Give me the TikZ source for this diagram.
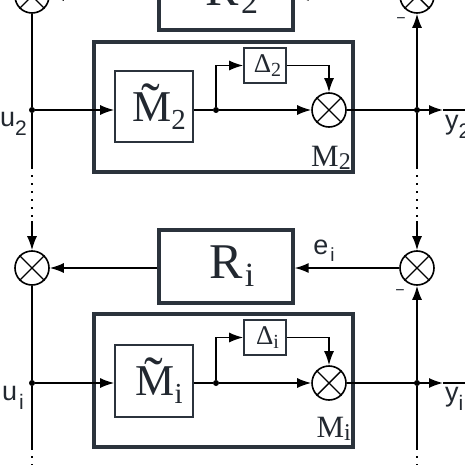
\documentclass[tikz,border=0pt]{standalone}
\usepackage{fontspec}
\setmainfont{Liberation Serif}
\setsansfont{Liberation Sans}
\usetikzlibrary{arrows.meta,calc}
\definecolor{boxcol}{HTML}{2B333C}
\definecolor{txtcol}{HTML}{222830}
\newcommand{\RLab}[1]{\hspace*{12pt}{\fontsize{50}{50}\selectfont R}\hspace{2pt}\raisebox{-8pt}{\fontsize{34}{34}\selectfont #1}}
\newcommand{\MtLab}[1]{\hspace*{10pt}{\fontsize{44}{44}\selectfont\makebox[0pt][l]{\hspace{9pt}{\fontsize{56}{56}\selectfont ˜}}M}\raisebox{-8pt}{\fontsize{29}{29}\selectfont #1}}
\newcommand{\MLab}[1]{{\fontsize{31}{31}\selectfont M}\raisebox{-3pt}{\fontsize{24}{24}\selectfont #1}}
\newcommand{\DLab}[1]{\hspace*{5pt}{\fontsize{27}{27}\selectfont Δ}\raisebox{-4pt}{\fontsize{20}{20}\selectfont #1}}
\newcommand{\SLab}[2]{\sffamily{\fontsize{27}{27}\selectfont #1}\raisebox{-9pt}{\fontsize{21}{21}\selectfont #2}}
\begin{document}
\begin{tikzpicture}[x=1pt,y=-1pt,
  bigbox/.style={draw=boxcol,line width=3.2pt,rectangle,inner sep=0pt,text=txtcol},
  blk/.style={draw=boxcol,line width=1.6pt,rectangle,inner sep=0pt,text=txtcol},
  sumnode/.style={circle,draw,line width=1.6pt,minimum size=34pt,inner sep=0pt},
  junc/.style={circle,fill,inner sep=0pt,minimum size=6pt},
  wire/.style={line width=1.6pt},
  conn/.style={line width=1.6pt,-{Latex[length=14pt,width=10pt]}},
  dotted wire/.style={line width=2pt,dash pattern=on 2pt off 6pt},
  lab/.style={inner sep=0pt,text=txtcol}]
\useasboundingbox (0,0) rectangle (465,465);

% ---------- top (partial) row: R2 ----------
\node[sumnode] (S2L) at (32,-4) {};
\node[sumnode] (S2R) at (417,-4) {};
\node[bigbox,minimum width=134pt,minimum height=73pt] (R2) at (226,-6.5) {\RLab{2}};

% ---------- M2 block ----------
\node[bigbox,minimum width=259pt,minimum height=130pt] (M2) at (223.5,107) {};
\node[blk,minimum width=78pt,minimum height=71pt] (Mt2) at (154,106.5) {\MtLab{2}};
\node[blk,minimum width=42pt,minimum height=35pt] (D2) at (265,65.5) {\DLab{2}};
\node[sumnode] (C2) at (329,110) {};
\node[junc] (d2L) at (32,110) {};
\node[junc] (d2M) at (216,110) {};
\node[junc] (d2R) at (417,110) {};
\node[lab,anchor=base east] (M2lab) at (351,166) {\MLab{2}};
\node[lab,anchor=west] (u2) at (0,124) {\SLab{u}{2}};
\node[lab,anchor=west] (y2) at (445,127) {\SLab{y}{2}};
\node[lab] (m2) at (401,21) {\sffamily\fontsize{16}{16}\selectfont −};

% ---------- Ri row ----------
\node[sumnode] (SiL) at (32,268) {};
\node[sumnode] (SiR) at (417,268) {};
\node[bigbox,minimum width=134pt,minimum height=73pt] (Ri) at (226,266.5) {\RLab{i}};
\node[lab] (ei) at (324,251) {\sffamily{\fontsize{27}{27}\selectfont e}\hspace{2pt}\raisebox{-7pt}{\fontsize{19}{19}\selectfont i}};
\node[lab] (mi) at (400,293) {\sffamily\fontsize{16}{16}\selectfont −};

% ---------- Mi block ----------
\node[bigbox,minimum width=259pt,minimum height=133pt] (Mi) at (223.5,380.5) {};
\node[blk,minimum width=78pt,minimum height=72pt] (Mti) at (154,381) {\MtLab{i}};
\node[blk,minimum width=42pt,minimum height=35pt] (Di) at (265,337.5) {\DLab{i}};
\node[sumnode] (Ci) at (329,383) {};
\node[junc] (diL) at (32,383) {};
\node[junc] (diM) at (216,383) {};
\node[junc] (diR) at (417,383) {};
\node[lab,anchor=base east] (Milab) at (351,437) {\MLab{i}};
\node[lab,anchor=west] (ui) at (2,398) {\SLab{u}{\hspace{2pt}i}};
\node[lab,anchor=west] (yi) at (445,399) {\SLab{y}{i}};

% crosses in summing junctions
\foreach \s in {S2L,S2R,C2,SiL,SiR,Ci}{
  \draw[line width=1.4pt] (\s.north east) -- (\s.south west);
  \draw[line width=1.4pt] (\s.north west) -- (\s.south east);
}

% coordinates for free ends
\coordinate (t2) at (443,110);
\coordinate (e2) at (465,110);
\coordinate (ti) at (443,383);
\coordinate (ei2) at (465,383);
\coordinate (l1) at (32,167);
\coordinate (l2) at (32,221);
\coordinate (r1) at (417,167);
\coordinate (r2) at (417,221);
\coordinate (l3) at (32,448);
\coordinate (l4) at (32,465);
\coordinate (r3) at (417,448);
\coordinate (r4) at (417,465);

% ---------- connectors top row ----------
\draw[conn] (S2R.west) -- (R2.east |- S2R);
\draw[conn] (R2.west |- S2L) -- (S2L.east);

% ---------- connectors M2 ----------
\draw[conn] (d2L) -- (d2L -| Mt2.west);
\draw[wire] (Mt2.east |- d2M) -- (d2M);
\draw[conn] (d2M) -- (C2.west);
\draw[conn] (d2M) |- (D2.west);
\draw[conn] (D2.east) -| (C2.north);
\draw[conn] (C2.east) -- (t2);
\draw[wire] (t2) -- (e2);
\draw[conn] (d2R) -- (S2R.south);
\draw[wire] (S2L.south) -- (d2L) -- (l1);
\draw[dotted wire] (l1) -- (l2);
\draw[conn] (l2) -- (SiL.north);
\draw[wire] (d2R) -- (r1);
\draw[dotted wire] (r1) -- (r2);
\draw[conn] (r2) -- (SiR.north);

% ---------- connectors Ri ----------
\draw[conn] (SiR.west) -- (Ri.east |- SiR);
\draw[conn] (Ri.west |- SiL) -- (SiL.east);
\draw[conn] (diR) -- (SiR.south);
\draw[wire] (SiL.south) -- (diL) -- (l3);
\draw[dotted wire] (l3) -- (l4);
\draw[wire] (diR) -- (r3);
\draw[dotted wire] (r3) -- (r4);

% ---------- connectors Mi ----------
\draw[conn] (diL) -- (diL -| Mti.west);
\draw[wire] (Mti.east |- diM) -- (diM);
\draw[conn] (diM) -- (Ci.west);
\draw[conn] (diM) |- (Di.west);
\draw[conn] (Di.east) -| (Ci.north);
\draw[conn] (Ci.east) -- (ti);
\draw[wire] (ti) -- (ei2);
\end{tikzpicture}
\end{document}
